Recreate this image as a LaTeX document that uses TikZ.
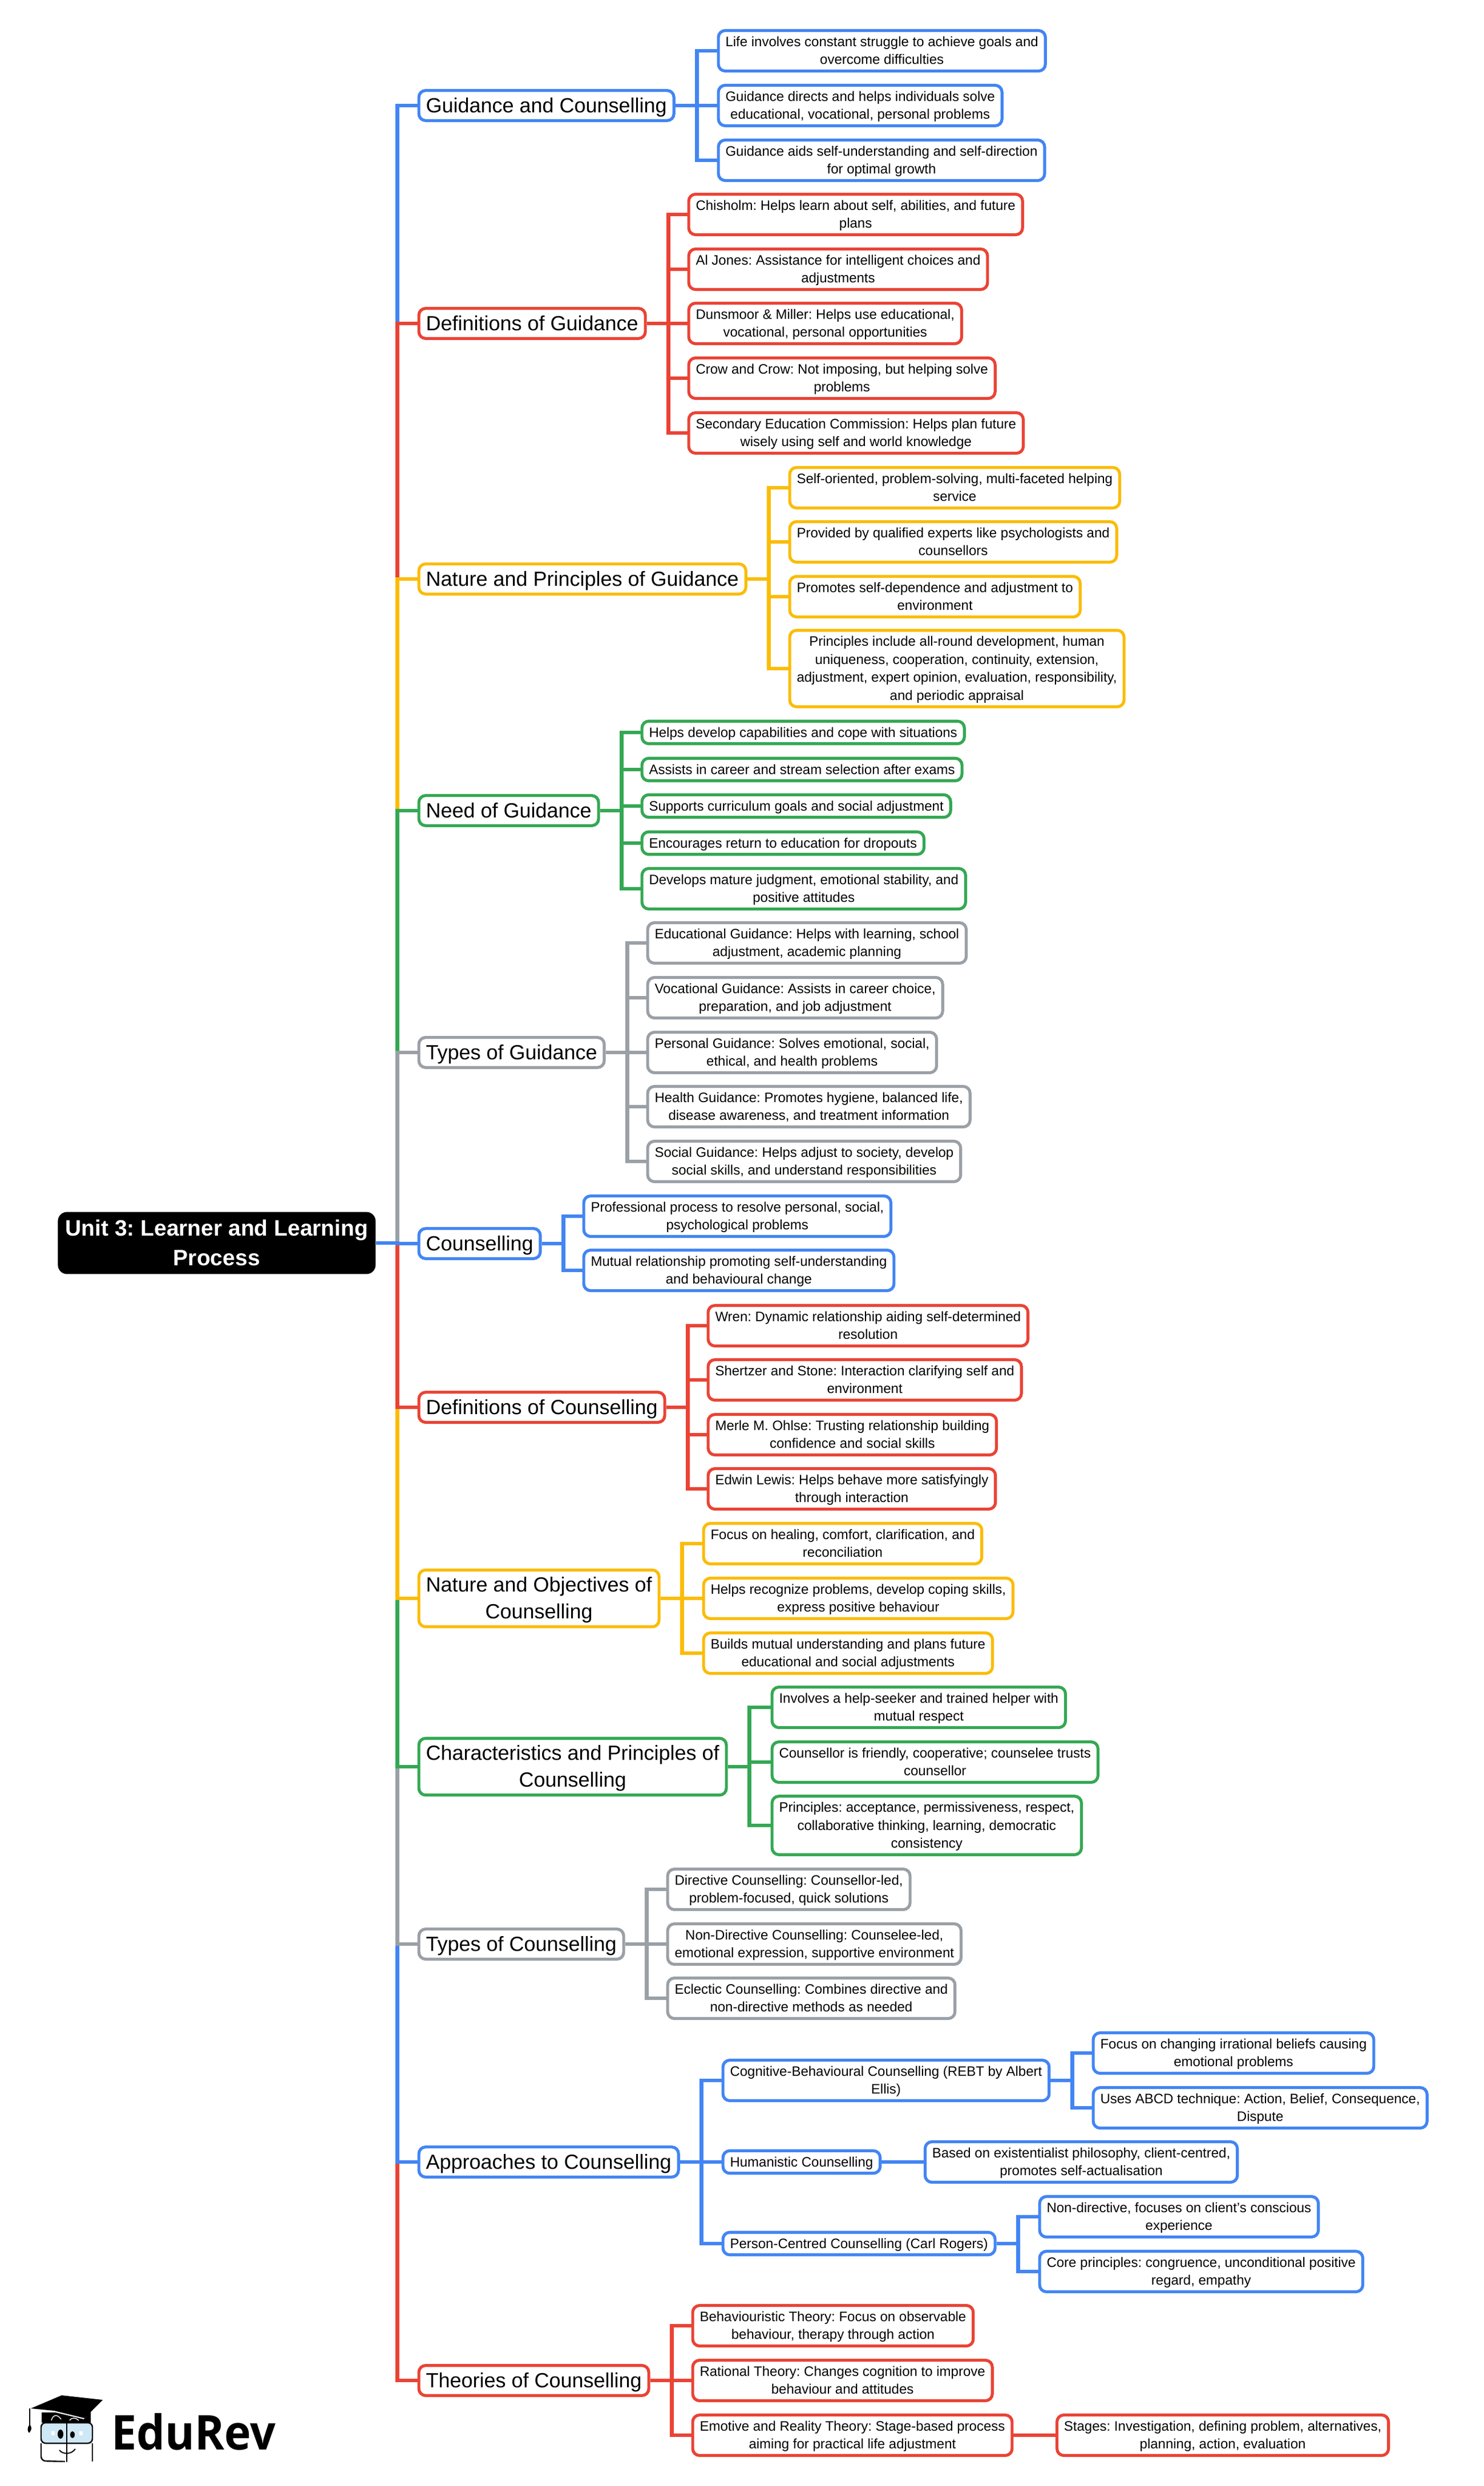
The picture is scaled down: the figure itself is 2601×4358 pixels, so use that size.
\documentclass[tikz,border=0pt]{standalone}
\usepackage{fontspec}
\setmainfont{Liberation Sans}
\newfontfamily\logofont[FakeStretch=0.94]{Open Sans}
\usetikzlibrary{positioning}
\frenchspacing

\definecolor{gblue}{HTML}{4285F4}
\definecolor{gred}{HTML}{EA4335}
\definecolor{gyellow}{HTML}{FBBC05}
\definecolor{ggreen}{HTML}{34A853}
\definecolor{ggray}{HTML}{9AA0A6}
\definecolor{glass}{HTML}{CFE8F6}

\newcommand{\leaffont}{\fontsize{12}{15.75}\selectfont}
\newcommand{\branchfont}{\fontsize{18}{23.4}\selectfont}
\newcommand{\rootfont}{\fontsize{19.5}{25.8}\selectfont\bfseries}
\newcommand{\tx}[1]{\rule{0pt}{.76\baselineskip}#1\rule[-.24\baselineskip]{0pt}{.24\baselineskip}}

\tikzset{
  box/.style={rectangle,rounded corners=6pt,line width=2.6pt,fill=white,text=black,
              align=center,anchor=west,inner xsep=6.2pt,xshift=-0.75pt},
  leaf/.style={box,draw=#1,font=\leaffont,inner ysep=2pt},
  branch/.style={box,draw=#1,font=\branchfont,inner ysep=1.5pt},
  elbow/.style={line width=3.4pt,to path={(\tikztostart.east) -- ++(19pt,0) |- (\tikztotarget.west)}}
}

\begin{document}
\begin{tikzpicture}[x=0.5pt,y=-0.5pt]
	  \useasboundingbox (0,0) rectangle (2601,4358);

	  \node[rectangle,rounded corners=8pt,fill=black,text=white,font=\rootfont,
	        align=center,anchor=west,inner xsep=6.5pt,inner ysep=1.4pt]
	        (Root) at (101,2179) {\tx{Unit 3: Learner and Learning\\Process}};

	  \node[branch=gblue]   (G) at (733,185)  {\tx{Guidance and Counselling}};
	  \node[branch=gred]    (D) at (733,567)  {\tx{Definitions of Guidance}};
	  \node[branch=gyellow] (N) at (733,1015) {\tx{Nature and Principles of Guidance}};
	  \node[branch=ggreen]  (W) at (733,1421) {\tx{Need of Guidance}};
	  \node[branch=ggray]   (T) at (733,1845) {\tx{Types of Guidance}};
	  \node[branch=gblue]   (C) at (733,2180) {\tx{Counselling}};
	  \node[branch=gred]    (E) at (733,2467) {\tx{Definitions of Counselling}};
	  \node[branch=gyellow] (O) at (733,2802) {\tx{Nature and Objectives of\\Counselling}};
	  \node[branch=ggreen]  (H) at (733,3097) {\tx{Characteristics and Principles of\\Counselling}};
	  \node[branch=ggray]   (K) at (733,3408) {\tx{Types of Counselling}};
	  \node[branch=gblue]   (A) at (733,3790) {\tx{Approaches to Counselling}};
	  \node[branch=gred]    (R) at (733,4173) {\tx{Theories of Counselling}};

	  \node[leaf=gblue] (G1) at (1258,89)  {\tx{Life involves constant struggle to achieve goals and\\overcome difficulties}};
	  \node[leaf=gblue] (G2) at (1258,185) {\tx{Guidance directs and helps individuals solve\\educational, vocational, personal problems}};
	  \node[leaf=gblue] (G3) at (1258,281) {\tx{Guidance aids self-understanding and self-direction\\for optimal growth}};

	  \node[leaf=gred] (D1) at (1206,376) {\tx{Chisholm: Helps learn about self, abilities, and future\\plans}};
	  \node[leaf=gred] (D2) at (1206,472) {\tx{Al Jones: Assistance for intelligent choices and\\adjustments}};
	  \node[leaf=gred] (D3) at (1206,567) {\tx{Dunsmoor \& Miller: Helps use educational,\\vocational, personal opportunities}};
	  \node[leaf=gred] (D4) at (1206,663) {\tx{Crow and Crow: Not imposing, but helping solve\\problems}};
	  \node[leaf=gred] (D5) at (1206,759) {\tx{Secondary Education Commission: Helps plan future\\wisely using self and world knowledge}};

	  \node[leaf=gyellow] (N1) at (1383,855)  {\tx{Self-oriented, problem-solving, multi-faceted helping\\service}};
	  \node[leaf=gyellow] (N2) at (1383,950)  {\tx{Provided by qualified experts like psychologists and\\counsellors}};
	  \node[leaf=gyellow] (N3) at (1383,1046) {\tx{Promotes self-dependence and adjustment to\\environment}};
	  \node[leaf=gyellow] (N4) at (1383,1172) {\tx{Principles include all-round development, human\\uniqueness, cooperation, continuity, extension,\\adjustment, expert opinion, evaluation, responsibility,\\and periodic appraisal}};

	  \node[leaf=ggreen] (W1) at (1124,1284) {\tx{Helps develop capabilities and cope with situations}};
	  \node[leaf=ggreen] (W2) at (1124,1349) {\tx{Assists in career and stream selection after exams}};
	  \node[leaf=ggreen] (W3) at (1124,1413) {\tx{Supports curriculum goals and social adjustment}};
	  \node[leaf=ggreen] (W4) at (1124,1478) {\tx{Encourages return to education for dropouts}};
	  \node[leaf=ggreen] (W5) at (1124,1558) {\tx{Develops mature judgment, emotional stability, and\\positive attitudes}};

	  \node[leaf=ggray] (T1) at (1134,1653) {\tx{Educational Guidance: Helps with learning, school\\adjustment, academic planning}};
	  \node[leaf=ggray] (T2) at (1134,1749) {\tx{Vocational Guidance: Assists in career choice,\\preparation, and job adjustment}};
	  \node[leaf=ggray] (T3) at (1134,1845) {\tx{Personal Guidance: Solves emotional, social,\\ethical, and health problems}};
	  \node[leaf=ggray] (T4) at (1134,1940) {\tx{Health Guidance: Promotes hygiene, balanced life,\\disease awareness, and treatment information}};
	  \node[leaf=ggray] (T5) at (1134,2036) {\tx{Social Guidance: Helps adjust to society, develop\\social skills, and understand responsibilities}};

	  \node[leaf=gblue] (C1) at (1022,2132) {\tx{Professional process to resolve personal, social,\\psychological problems}};
	  \node[leaf=gblue] (C2) at (1022,2227) {\tx{Mutual relationship promoting self-understanding\\and behavioural change}};

	  \node[leaf=gred] (E1) at (1240,2324) {\tx{Wren: Dynamic relationship aiding self-determined\\resolution}};
	  \node[leaf=gred] (E2) at (1240,2419) {\tx{Shertzer and Stone: Interaction clarifying self and\\environment}};
	  \node[leaf=gred] (E3) at (1240,2515) {\tx{Merle M. Ohlse: Trusting relationship building\\confidence and social skills}};
	  \node[leaf=gred] (E4) at (1240,2610) {\tx{Edwin Lewis: Helps behave more satisfyingly\\through interaction}};

	  \node[leaf=gyellow] (O1) at (1232,2706) {\tx{Focus on healing, comfort, clarification, and\\reconciliation}};
	  \node[leaf=gyellow] (O2) at (1232,2802) {\tx{Helps recognize problems, develop coping skills,\\express positive behaviour}};
	  \node[leaf=gyellow] (O3) at (1232,2898) {\tx{Builds mutual understanding and plans future\\educational and social adjustments}};

	  \node[leaf=ggreen] (H1) at (1352,2993) {\tx{Involves a help-seeker and trained helper with\\mutual respect}};
	  \node[leaf=ggreen] (H2) at (1352,3089) {\tx{Counsellor is friendly, cooperative; counselee trusts\\counsellor}};
	  \node[leaf=ggreen] (H3) at (1352,3200) {\tx{Principles: acceptance, permissiveness, respect,\\collaborative thinking, learning, democratic\\consistency}};

	  \node[leaf=ggray] (K1) at (1169,3312) {\tx{Directive Counselling: Counsellor-led,\\problem-focused, quick solutions}};
	  \node[leaf=ggray] (K2) at (1169,3408) {\tx{Non-Directive Counselling: Counselee-led,\\emotional expression, supportive environment}};
	  \node[leaf=ggray] (K3) at (1169,3503) {\tx{Eclectic Counselling: Combines directive and\\non-directive methods as needed}};

	  \node[leaf=gblue] (A1) at (1266,3647) {\tx{Cognitive-Behavioural Counselling (REBT by Albert\\Ellis)}};
	  \node[leaf=gblue] (A2) at (1266,3790) {\tx{Humanistic Counselling}};
	  \node[leaf=gblue] (A3) at (1266,3933) {\tx{Person-Centred Counselling (Carl Rogers)}};
	  \node[leaf=gblue] (A11) at (1915,3599) {\tx{Focus on changing irrational beliefs causing\\emotional problems}};
	  \node[leaf=gblue] (A12) at (1915,3695) {\tx{Uses ABCD technique: Action, Belief, Consequence,\\Dispute}};
	  \node[leaf=gblue] (A21) [right=37.5pt of A2] {\tx{Based on existentialist philosophy, client-centred,\\promotes self-actualisation}};
	  \node[leaf=gblue] (A31) at (1821,3886) {\tx{Non-directive, focuses on client’s conscious\\experience}};
	  \node[leaf=gblue] (A32) at (1821,3982) {\tx{Core principles: congruence, unconditional positive\\regard, empathy}};

	  \node[leaf=gred] (R1) at (1213,4077) {\tx{Behaviouristic Theory: Focus on observable\\behaviour, therapy through action}};
	  \node[leaf=gred] (R2) at (1213,4173) {\tx{Rational Theory: Changes cognition to improve\\behaviour and attitudes}};
	  \node[leaf=gred] (R3) at (1213,4269) {\tx{Emotive and Reality Theory: Stage-based process\\aiming for practical life adjustment}};
	  \node[leaf=gred] (R31) [right=37.5pt of R3] {\tx{Stages: Investigation, defining problem, alternatives,\\planning, action, evaluation}};

	  \path[elbow] (Root) edge[gblue] (G) edge[gred] (D) edge[gyellow] (N) edge[ggreen] (W) edge[ggray] (T)
	        (Root) edge[gred] (R) edge[gblue] (A) edge[ggray] (K) edge[ggreen] (H) edge[gyellow] (O)
	        (Root) edge[gred] (E) edge[gblue] (C);

	  \path[elbow,gblue] (G) edge (G1) edge (G2) edge (G3)
	        (C) edge (C1) edge (C2)
	        (A) edge (A1) edge (A2) edge (A3)
	        (A1) edge (A11) edge (A12)
	        (A2) edge (A21)
	        (A3) edge (A31) edge (A32);
	  \path[elbow,gred] (D) edge (D1) edge (D2) edge (D3) edge (D4) edge (D5)
	        (E) edge (E1) edge (E2) edge (E3) edge (E4)
	        (R) edge (R1) edge (R2) edge (R3)
	        (R3) edge (R31);
	  \path[elbow,gyellow] (N) edge (N1) edge (N2) edge (N3) edge (N4)
	        (O) edge (O1) edge (O2) edge (O3);
	  \path[elbow,ggreen] (W) edge (W1) edge (W2) edge (W3) edge (W4) edge (W5)
	        (H) edge (H1) edge (H2) edge (H3);
	  \path[elbow,ggray] (T) edge (T1) edge (T2) edge (T3) edge (T4) edge (T5)
	        (K) edge (K1) edge (K2) edge (K3);

	  \node[anchor=west,inner sep=0pt,text=black,font=\logofont\fontsize{42}{50}\selectfont\bfseries] (Logo) at (195,4263) {EduRev};
	  \fill (54,4222) -- (108,4199) -- (180,4207) -- (148,4239) -- (95,4226) -- cycle;
	  \fill (73,4229) -- (97,4229) -- (147,4241) -- (159,4226) -- (159,4247) -- (73,4247) -- cycle;
	  \draw[line width=0.8pt] (52,4222) -- (52,4252);
	  \fill (52,4250) .. controls (46,4258) and (49,4262) .. (51,4265) .. controls (55,4260) and (57,4256) .. (52,4250) -- cycle;
	  \draw[white,line width=0.7pt] (90,4243) .. controls (93,4232) and (101,4232) .. (107,4241);
	  \draw[white,line width=0.7pt] (122,4243) .. controls (126,4237) and (133,4238) .. (138,4243);
	  \draw[fill=glass,line width=1.2pt,rounded corners=4pt] (72,4247) rectangle (162,4283);
	  \draw[line width=1.2pt,rounded corners=4pt] (72,4283) -- (72,4314) -- (114,4315);
	  \draw[line width=1.2pt,rounded corners=4pt] (162,4283) -- (162,4315);
	  \draw[line width=1.4pt] (117,4246) -- (117,4316);
	  \fill (106,4267) ellipse [x radius=5,y radius=8];
	  \fill (127,4268) ellipse [x radius=4,y radius=6];
	  \fill[white] (90,4262) rectangle (96,4269);
	  \fill[white] (139,4262) rectangle (145,4269);
	  \draw[line width=1pt] (104,4295) .. controls (110,4303) and (125,4303) .. (132,4293);
\end{tikzpicture}
\end{document}
